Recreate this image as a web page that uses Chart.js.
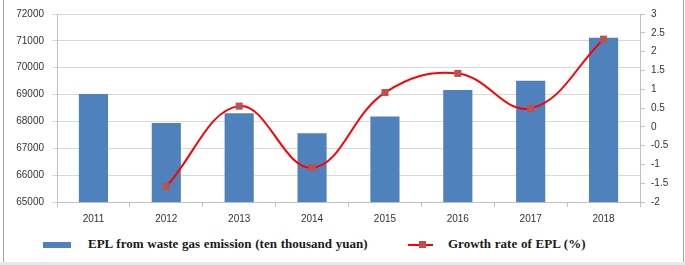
<!DOCTYPE html>
<html>
<head>
<meta charset="utf-8">
<script src="https://cdn.jsdelivr.net/npm/chart.js@4"></script>
<style>
  html, body { margin: 0; padding: 0; background: #e8e8e8; }
  #frame { position: absolute; left: 0; top: 0; width: 685px; height: 262px; background: #fff; }
  #frame .edge { position: absolute; top: 0; width: 1px; height: 262px; background: #a6a6a6; }
  #chartBox { position: absolute; left: 0; top: 0; width: 685px; height: 230px; }
  .leg { position: absolute; top: 236px; font-family: "Liberation Serif", serif; font-weight: bold; font-size: 13px; color: #1a1a1a; word-spacing: 0.5px; white-space: nowrap; }
  .swatch { position: absolute; }
</style>
</head>
<body>
<div id="frame">
  <div class="edge" style="left:3px"></div>
  <div class="edge" style="left:683px"></div>
  <div id="chartBox"><canvas id="comboChart" width="685" height="230"></canvas></div>
  <div class="swatch" style="left:43px; top:242px; width:28px; height:6px; background:#4f81bd;"></div>
  <div class="leg" style="left:88px;">EPL from waste gas emission (ten thousand yuan)</div>
  <div class="swatch" style="left:408px; top:244px; width:25px; height:2px; background:#ff0000;"></div>
  <div class="swatch" style="left:419px; top:241px; width:7px; height:7px; background:#c0504d;"></div>
  <div class="leg" style="left:448px;">Growth rate of EPL (%)</div>
</div>
<script>
var years = ['2011', '2012', '2013', '2014', '2015', '2016', '2017', '2018'];
var eplValues = [69020, 67940, 68300, 67560, 68180, 69170, 69510, 71120];
var growthRates = [null, -1.59, 0.55, -1.09, 0.91, 1.42, 0.49, 2.33];
var leftTicks = [65000, 66000, 67000, 68000, 69000, 70000, 71000, 72000];
var rightTicks = [-2, -1.5, -1, -0.5, 0, 0.5, 1, 1.5, 2, 2.5, 3];

var tickFont = { family: 'Liberation Sans', size: 10 };

function plainLabel(value) {
    return String(value);
}

combo_chart = document.getElementById('comboChart');
comboChart = new Chart(combo_chart, {
    data: {
        labels: years,
        datasets: [{
            type: 'line',
            label: 'Growth rate of EPL (%)',
            data: growthRates,
            yAxisID: 'y2',
            borderColor: '#ff0000',
            borderWidth: 2,
            tension: 0.4,
            pointStyle: 'rect',
            pointRadius: 5,
            pointBackgroundColor: '#c0504d',
            pointBorderColor: '#c0504d',
            pointBorderWidth: 0,
            order: 0
        }, {
            type: 'bar',
            label: 'EPL from waste gas emission (ten thousand yuan)',
            data: eplValues,
            yAxisID: 'y',
            backgroundColor: '#4f81bd',
            borderWidth: 0,
            barPercentage: 0.4,
            categoryPercentage: 1,
            order: 1
        }]
    },
    options: {
        responsive: false,
        animation: false,
        layout: { padding: { top: 14, left: 0, right: 0, bottom: 0 } },
        plugins: {
            legend: { display: false },
            tooltip: { enabled: false }
        },
        scales: {
            x: {
                grid: {
                    offset: true,
                    drawOnChartArea: false,
                    drawTicks: true,
                    tickLength: 5,
                    color: '#bfbfbf'
                },
                border: { display: true, color: '#bfbfbf' },
                ticks: { font: tickFont, color: '#333', padding: 6 },
                afterFit: function (axis) { axis.height = 28; }
            },
            y: {
                position: 'left',
                min: 65000,
                max: 72000,
                afterBuildTicks: function (axis) {
                    axis.ticks = leftTicks.map(function (v) { return { value: v }; });
                },
                grid: { color: '#d9d9d9', tickLength: 5 },
                border: { display: true, color: '#bfbfbf' },
                ticks: { font: tickFont, color: '#333', padding: 8, callback: plainLabel },
                afterFit: function (axis) { axis.width = 57; }
            },
            y2: {
                position: 'right',
                min: -2,
                max: 3,
                afterBuildTicks: function (axis) {
                    axis.ticks = rightTicks.map(function (v) { return { value: v }; });
                },
                grid: { drawOnChartArea: false, tickLength: 5, color: '#bfbfbf' },
                border: { display: true, color: '#bfbfbf' },
                ticks: { font: tickFont, color: '#333', padding: 6, callback: plainLabel },
                afterFit: function (axis) { axis.width = 45; }
            }
        }
    }
});
</script>
</body>
</html>
